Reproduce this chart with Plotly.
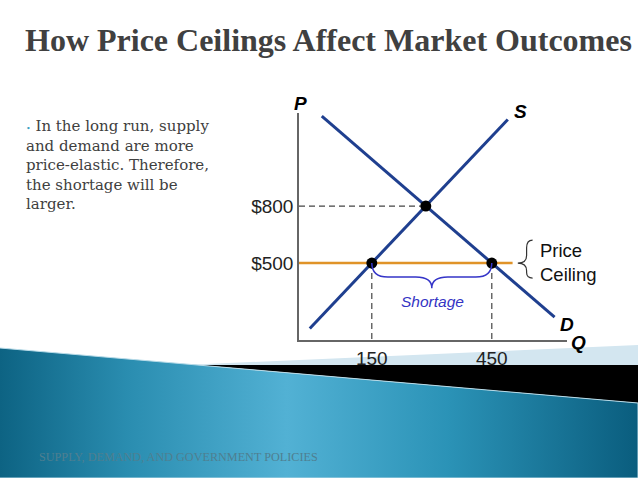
import plotly.graph_objects as go

W, H = 638, 478

# chart values (schematic units)
q_ceiling = [150, 450]          # quantity supplied / demanded at the ceiling
p_ceiling = 500
q_eq, p_eq = 285, 800
supply_q = [-5, 490]
supply_p = [156, 1256]
demand_q = [25, 607]
demand_p = [1273, 215]
q_min, q_max = -32, 638
p_min, p_max = 95, 1290
ceiling_end = 502
q_ticks = [150, 450]
q_labels = ['150', '450']
p_ticks = [500, 800]
p_labels = ['$500', '$800']

# slide background polygons (pixel units)
blue_x = [0, 638, 638, 0]
blue_y = [348, 403, 478, 478]
black_x = [198, 638, 638]
black_y = [365, 365, 403]
light_x = [184, 638, 638]
light_y = [365, 345, 365]

navy = '#1f3f8f'
orange = '#e09328'
dash_col = '#444444'

fig = go.Figure()

# background on full-page axes x/y
fig.add_trace(go.Scatter(x=light_x, y=light_y, fill='toself', mode='none',
                         fillcolor='#d3e6f0', hoverinfo='skip', showlegend=False))
fig.add_trace(go.Scatter(x=black_x, y=black_y, fill='toself', mode='none',
                         fillcolor='#000000', hoverinfo='skip', showlegend=False))
fig.add_trace(go.Scatter(x=blue_x, y=blue_y, fill='toself', mode='lines',
                         line=dict(color='#b8dbe8', width=1),
                         fillgradient=dict(type='horizontal',
                                           colorscale=[[0, '#0d6383'], [0.2, '#2a8db0'],
                                                       [0.45, '#52b1d4'], [0.7, '#2b93b7'],
                                                       [1, '#0a5d7e']]),
                         hoverinfo='skip', showlegend=False))

# chart on x2/y2
cx = dict(xaxis='x2', yaxis='y2', hoverinfo='skip', showlegend=False, cliponaxis=False)

fig.add_trace(go.Scatter(x=[q_min, q_eq], y=[p_eq, p_eq], mode='lines',
                         line=dict(color=dash_col, width=1.2, dash='6px,4px'), **cx))
for q in q_ceiling:
    fig.add_trace(go.Scatter(x=[q, q], y=[p_ceiling, p_min], mode='lines',
                             line=dict(color=dash_col, width=1.2, dash='6px,4px'), **cx))

fig.add_trace(go.Scatter(x=[q_min, ceiling_end], y=[p_ceiling, p_ceiling], mode='lines',
                         line=dict(color=orange, width=2.5), **cx))
fig.add_trace(go.Scatter(x=supply_q, y=supply_p, mode='lines',
                         line=dict(color=navy, width=3), **cx))
fig.add_trace(go.Scatter(x=demand_q, y=demand_p, mode='lines',
                         line=dict(color=navy, width=3), **cx))
fig.add_trace(go.Scatter(x=q_ceiling + [q_eq], y=[p_ceiling, p_ceiling, p_eq], mode='markers',
                         marker=dict(color='black', size=11), **cx))

# braces
q_mid = (q_ceiling[0] + q_ceiling[1]) / 2
b = 'M {a},{p} Q {a},426 {a2},426 L {m1},426 Q {m},426 {m},368 Q {m},426 {m2},426 L {b2},426 Q {b},426 {b},{p}'.format(
    a=q_ceiling[0], a2=q_ceiling[0] + 40, m1=q_mid - 40, m=q_mid, m2=q_mid + 40,
    b2=q_ceiling[1] - 40, b=q_ceiling[1], p=p_ceiling)
brace2 = 'M 552,621 Q 537,621 537,580 L 537,540 Q 537,500 515,500 Q 537,500 537,460 L 537,450 Q 537,421 552,421'

shapes = [
    dict(type='path', path=b, xref='x2', yref='y2', line=dict(color='#3535c8', width=1.5)),
    dict(type='path', path=brace2, xref='x2', yref='y2', line=dict(color='#333333', width=1.2)),
]

sans = 'Liberation Sans, Arial, sans-serif'
serif = 'Liberation Serif, Times New Roman, serif'


def ann(text, x, y, size, color='black', font=sans, xa='center', ya='middle', align='center'):
    return dict(text=text, x=x, y=y, xref='x', yref='y', showarrow=False,
                xanchor=xa, yanchor=ya, align=align,
                font=dict(family=font, size=size, color=color))


annotations = [
    ann('<b>How Price Ceilings Affect Market Outcomes</b>', 328, 40, 32, '#404040', serif),
    ann('<span style="color:#3a9ec0;font-size:8px">•</span> In the long run, supply<br>'
        'and demand are more<br>price-elastic. Therefore,<br>the shortage will be<br>larger.',
        24, 115, 15, '#404040', 'DejaVu Serif, Georgia, serif', xa='left', ya='top', align='left'),
    ann('SUPPLY, DEMAND, AND GOVERNMENT POLICIES', 37, 457, 12.2, '#4f7f90', serif, xa='left'),
    ann('<b><i>P</i></b>', 300, 103, 19),
    ann('<b><i>S</i></b>', 520, 111, 19),
    ann('<b><i>D</i></b>', 567, 324, 19),
    ann('<b><i>Q</i></b>', 578, 342, 19),
    ann('Price<br>Ceiling', 538, 262, 18.5, '#111111', xa='left', align='left'),
    ann('<i>Shortage</i>', 432, 301, 15.5, '#3434c4'),
]

fig.update_layout(
    width=W, height=H,
    margin=dict(l=0, r=0, t=0, b=0),
    paper_bgcolor='white', plot_bgcolor='rgba(0,0,0,0)',
    xaxis=dict(domain=[0, 1], range=[0, W], visible=False, fixedrange=True),
    yaxis=dict(domain=[0, 1], range=[H, 0], visible=False, fixedrange=True),
    xaxis2=dict(domain=[299 / W, 567 / W], range=[q_min, q_max], anchor='y2',
                showline=True, linecolor='#666666', linewidth=1.5, showgrid=False,
                zeroline=False, ticks='', tickvals=q_ticks, ticktext=q_labels,
                tickfont=dict(family=sans, size=19, color='#222222')),
    yaxis2=dict(domain=[1 - 340 / H, 1 - 113 / H], range=[p_min, p_max], anchor='x2',
                showline=True, linecolor='#666666', linewidth=1.5, showgrid=False,
                zeroline=False, ticks='', tickvals=p_ticks, ticktext=p_labels,
                tickfont=dict(family=sans, size=19, color='#222222')),
    shapes=shapes,
    annotations=annotations,
)

# page body has an 8px default margin; drop it so the slide fills the window
fig.write_html('out.html', config={'displayModeBar': False},
               post_script="document.body.style.margin='0';")
